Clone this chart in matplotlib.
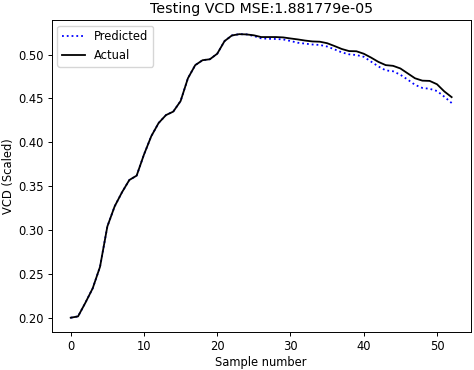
import numpy as np
import matplotlib
matplotlib.use("Agg")
import matplotlib.pyplot as plt

# values
actual = [0.200, 0.2015, 0.217, 0.2335, 0.258, 0.304, 0.327, 0.343, 0.357, 0.362,
          0.386, 0.407, 0.422, 0.431, 0.435, 0.447, 0.473, 0.488, 0.4936, 0.4947,
          0.501, 0.5154, 0.5218, 0.5233, 0.523, 0.522, 0.520, 0.520, 0.520, 0.5196,
          0.5184, 0.5173, 0.516, 0.515, 0.5147, 0.513, 0.5098, 0.5064, 0.504, 0.5038,
          0.501, 0.4966, 0.4917, 0.488, 0.4872, 0.4842, 0.4786, 0.473, 0.4703, 0.470,
          0.4662, 0.458, 0.4515]
predicted = actual[:25] + [0.5212, 0.5185, 0.518, 0.5178, 0.5173, 0.5155, 0.5135, 0.5125,
                           0.5115, 0.511, 0.5092, 0.506, 0.5025, 0.5003, 0.4995, 0.4975,
                           0.492, 0.4865, 0.482, 0.481, 0.477, 0.4715, 0.4655, 0.462,
                           0.461, 0.4585, 0.452, 0.4448]
mse = 1.881779e-05

x = np.arange(len(actual))

# reference looks like a default figure shrunk by ~0.85
plt.rcParams['font.size'] = 8.3
plt.rcParams['axes.titlesize'] = 10.2
plt.rcParams['axes.titlepad'] = 5
plt.rcParams['axes.labelpad'] = 2.5
plt.rcParams['lines.linewidth'] = 1.3
plt.rcParams['axes.linewidth'] = 0.7
plt.rcParams['xtick.major.width'] = 0.7
plt.rcParams['ytick.major.width'] = 0.7
plt.rcParams['xtick.major.size'] = 3
plt.rcParams['ytick.major.size'] = 3
plt.rcParams['xtick.major.pad'] = 2.5
plt.rcParams['ytick.major.pad'] = 2.5

fig = plt.figure(figsize=(4.74, 3.70), dpi=100)
ax = fig.add_subplot(111)
fig.subplots_adjust(left=0.109, right=0.993, bottom=0.103, top=0.946)

ax.plot(x, predicted, 'b:', label='Predicted')
ax.plot(x, actual, 'k-', label='Actual')
ax.set_title('Testing VCD MSE:%e' % mse)
ax.set_xlabel('Sample number')
ax.set_ylabel('VCD (Scaled)')
ax.legend(loc='upper left')

plt.savefig('out.png', dpi=100)
